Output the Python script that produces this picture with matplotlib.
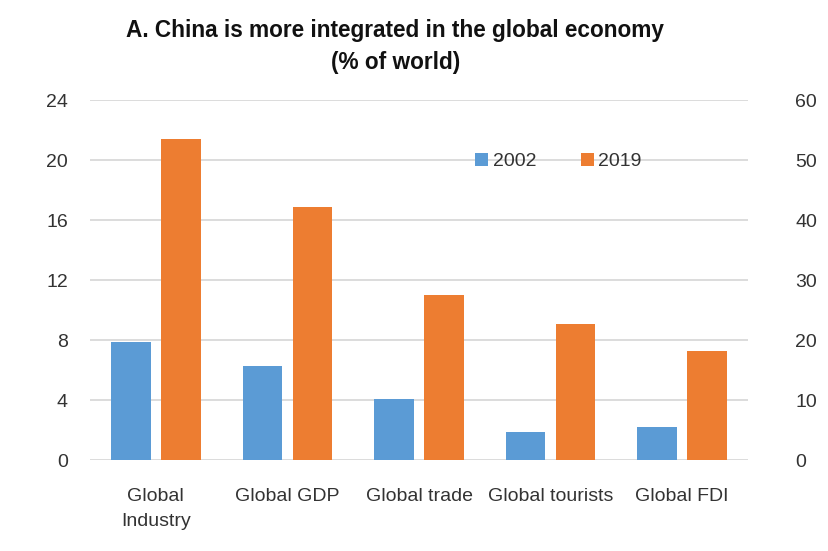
import numpy as np
import matplotlib.pyplot as plt

categories = ["Global\nIndustry", "Global GDP", "Global trade", "Global tourists", "Global FDI"]
values_2002 = [7.9, 6.3, 4.1, 1.9, 2.2]
values_2019 = [21.4, 16.9, 11.0, 9.1, 7.3]
left_ticks = [0, 4, 8, 12, 16, 20, 24]
right_ticks = [0, 10, 20, 30, 40, 50, 60]

blue = "#5B9BD5"
orange = "#ED7D31"

plt.rcParams['font.family'] = ['Liberation Sans', 'DejaVu Sans']

fig = plt.figure(figsize=(8.29, 5.51), dpi=100)
ax = fig.add_axes([0.1086, 0.165, 0.7937, 0.6535])

x = np.arange(len(categories))
w = 0.30
ax.bar(x - 0.19, values_2002, w, color=blue, label="2002", zorder=3)
ax.bar(x + 0.19, values_2019, w, color=orange, label="2019", zorder=3)

ax.set_xlim(-0.5, len(categories) - 0.5)
ax.set_ylim(0, 24)
ax.set_yticks(left_ticks)
ax.set_xticks(x)
ax.set_xticklabels(categories)
for lab in ax.get_xticklabels():
    lab.set_linespacing(1.6)
ax.yaxis.grid(True, color="#d9d9d9", linewidth=1.3, zorder=0)
ax.set_axisbelow(True)
for s in ax.spines.values():
    s.set_visible(False)
ax.tick_params(axis="both", length=0, labelsize=14, colors="#333333")
ax.tick_params(axis="y", pad=16)
ax.tick_params(axis="x", pad=20)

# right axis sits slightly offset from the left one in the original
ax2 = ax.twinx()
ax2.set_ylim(1, 59.2)
ax2.set_yticks(right_ticks)
for s in ax2.spines.values():
    s.set_visible(False)
ax2.tick_params(axis="y", length=0, labelsize=14, colors="#333333", pad=34)

ax.legend(loc="center", bbox_to_anchor=(0.712, 0.83), ncol=2, frameon=False,
          fontsize=14, handlelength=0.65, handleheight=0.65, handletextpad=0.25,
          columnspacing=2.3, labelcolor="#333333")

fig.suptitle("A. China is more integrated in the global economy\n(% of world)",
             x=0.477, y=0.965, fontsize=16.3, fontweight="bold", color="#111111",
             linespacing=1.5)

fig.savefig("out.png", dpi=100)
